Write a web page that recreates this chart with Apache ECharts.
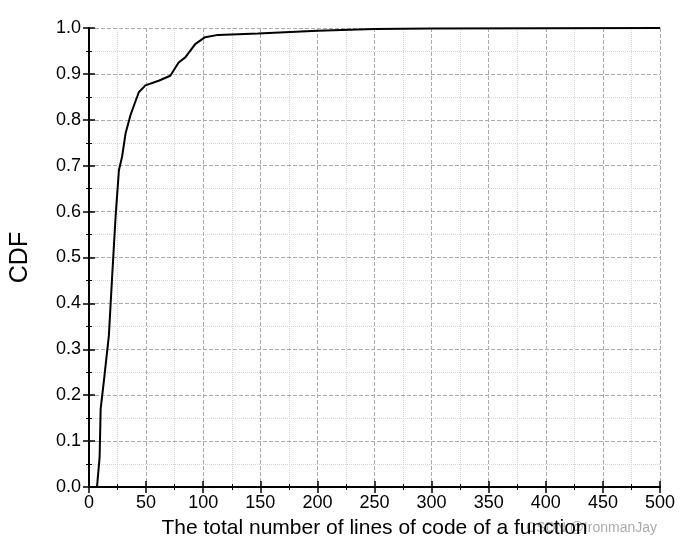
<!DOCTYPE html>
<html><head><meta charset="utf-8">
<script src="https://cdn.jsdelivr.net/npm/echarts@6/dist/echarts.min.js"></script>
<style>html,body{margin:0;padding:0;background:#fff}#c{width:697px;height:557px}</style>
</head><body><div id="c"></div>
<script>
// CDF curve points: [lines of code, CDF]
const linesOfCode = [0, 7, 9.3, 10.2, 13, 17.4, 20.3, 23.3, 26.2, 29, 32, 36.3, 39.2, 43.6, 49.4, 61, 71.2, 78.5, 84.3, 93, 101.7, 113, 148, 200, 250, 300, 500];
const cdfValues  = [0, 0, 0.065, 0.17, 0.23, 0.33, 0.46, 0.59, 0.69, 0.72, 0.77, 0.81, 0.83, 0.86, 0.875, 0.885, 0.896, 0.925, 0.936, 0.965, 0.98, 0.985, 0.988, 0.994, 0.998, 0.999, 1.0];

const font = 'Liberation Sans, Arial, sans-serif';
const chart = echarts.init(document.getElementById('c'));

const baseX = {
  type: 'value', min: 0, max: 500, interval: 50,
  axisLine: { show: true, lineStyle: { color: '#000', width: 2 } },
  axisTick: { show: true, inside: true, length: 6, lineStyle: { color: '#000', width: 1.5 } },
  minorTick: { show: true, splitNumber: 2, length: 3, lineStyle: { color: '#000' } }
};
const baseY = {
  type: 'value', min: 0, max: 1, interval: 0.1,
  axisLine: { show: true, lineStyle: { color: '#000', width: 2 } },
  axisTick: { show: true, inside: true, length: 6, lineStyle: { color: '#000', width: 1.5 } },
  minorTick: { show: true, splitNumber: 2, length: 3, lineStyle: { color: '#000' } }
};

chart.setOption({
  animation: false,
  grid: { left: 88, right: 37, top: 28, bottom: 70 },
  xAxis: [
    Object.assign({}, baseX, {
      position: 'bottom',
      name: 'The total number of lines of code of a function',
      nameLocation: 'middle', nameGap: 31,
      nameTextStyle: { fontFamily: font, fontSize: 21, color: '#000' },
      axisLabel: { fontFamily: font, fontSize: 18, color: '#000', margin: 7 },
      splitLine: { show: true, lineStyle: { color: '#aaa', type: 'dashed', width: 1 } },
      minorSplitLine: { show: true, lineStyle: { color: '#d4d4d4', type: 'dotted', width: 1 } }
    }),
    Object.assign({}, baseX, { position: 'top', axisLabel: { show: false }, splitLine: { show: false } })
  ],
  yAxis: [
    Object.assign({}, baseY, {
      position: 'left',
      name: 'CDF', nameLocation: 'middle', nameGap: 56,
      nameTextStyle: { fontFamily: font, fontSize: 25, color: '#000' },
      axisLabel: { fontFamily: font, fontSize: 18, color: '#000', margin: 8, formatter: v => v.toFixed(1) },
      splitLine: { show: true, lineStyle: { color: '#aaa', type: 'dashed', width: 1 } },
      minorSplitLine: { show: true, lineStyle: { color: '#d4d4d4', type: 'dotted', width: 1 } }
    }),
    Object.assign({}, baseY, { position: 'right', axisLabel: { show: false }, splitLine: { show: false } })
  ],
  series: [{
    type: 'line', xAxisIndex: 0, yAxisIndex: 0,
    data: linesOfCode.map((x, i) => [x, cdfValues[i]]),
    showSymbol: false, smooth: false,
    lineStyle: { color: '#000', width: 2 }
  }],
  graphic: [{
    type: 'text', right: 40, bottom: 22,
    style: { text: 'CSDN @IronmanJay', fontFamily: font, fontSize: 14, fill: 'rgba(150,150,150,0.8)' }
  }]
});
</script></body></html>
